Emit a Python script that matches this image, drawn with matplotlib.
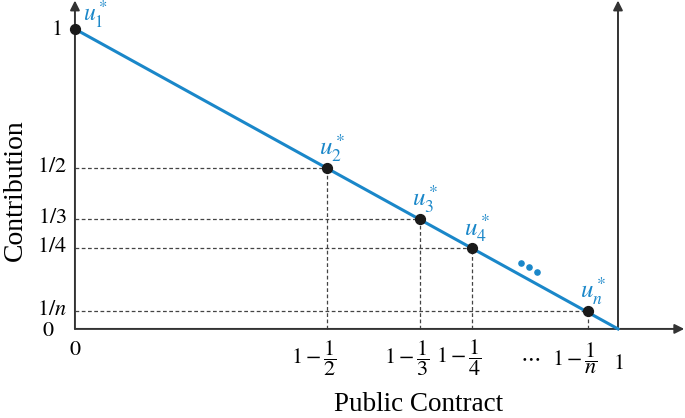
import matplotlib.pyplot as plt

plt.rcParams['mathtext.fontset'] = 'stix'
plt.rcParams['font.family'] = ['Liberation Serif', 'DejaVu Serif']

# equilibrium points u_k* (x: public contract, y: contribution)
px = [0.0, 0.464, 0.635, 0.731, 0.945]
py = [1.0, 0.537, 0.367, 0.270, 0.060]
point_labels = [r'$u_1^*$', r'$u_2^*$', r'$u_3^*$', r'$u_4^*$', r'$u_n^*$']
xtick_labels = [r'$1-\dfrac{1}{2}$', r'$1-\dfrac{1}{3}$', r'$1-\dfrac{1}{4}$', r'$1-\dfrac{1}{n}$']
ytick_labels = [r'$1/2$', r'$1/3$', r'$1/4$', r'$1/n$']
dots_x = [0.822, 0.837, 0.851]
dots_y = [0.220, 0.207, 0.190]

blue = '#1a87c9'
dark = '#1a1a1a'

fig = plt.figure(figsize=(6.85, 4.18), dpi=100)
ax = fig.add_axes([0, 0, 1, 1])
ax.set_xlim(-0.138, 1.1234)
ax.set_ylim(-0.297, 1.0967)
ax.axis('off')

# axes with arrows
arrow = dict(arrowstyle='-|>', color='#333333', lw=1.4, mutation_scale=14, shrinkA=0, shrinkB=0)
ax.annotate('', xy=(0, 1.095), xytext=(0, 0), arrowprops=arrow)
ax.annotate('', xy=(1.122, 0), xytext=(0, 0), arrowprops=arrow)
ax.annotate('', xy=(1.0, 1.095), xytext=(1.0, 0), arrowprops=arrow)

# main line
ax.plot([0, 1], [1, 0], color=blue, lw=2.2, zorder=3)

# guide lines
for x, y in zip(px[1:], py[1:]):
    ax.plot([0, x], [y, y], ls=(0, (3, 2)), color='#444444', lw=0.9, zorder=2)
    ax.plot([x, x], [0, y], ls=(0, (3, 2)), color='#444444', lw=0.9, zorder=2)

ax.scatter(px, py, s=50, color=dark, zorder=4, clip_on=False)

# point labels
for i, (x, y, lab) in enumerate(zip(px, py, point_labels)):
    if i == 0:
        ax.text(x + 0.014, y - 0.008, lab, color=blue, fontsize=17, ha='left', va='bottom')
    else:
        ax.text(x + 0.01, y + 0.012, lab, color=blue, fontsize=18, ha='center', va='bottom')

ax.scatter(dots_x, dots_y, s=14, color=blue, zorder=4)

# y tick labels
ax.text(-0.024, 0.995, r'$1$', fontsize=16, ha='right', va='center')
for y, lab in zip(py[1:], ytick_labels):
    ax.text(-0.015, y, lab, fontsize=16, ha='right', va='center')
ax.text(-0.037, -0.007, r'$0$', fontsize=16, ha='right', va='center')

# x tick labels
ax.text(0.0, -0.073, r'$0$', fontsize=16, ha='center', va='center')
for x, lab in zip(px[1:], xtick_labels):
    ax.text(x + 0.018, -0.097, lab, fontsize=16, ha='right', va='center')
ax.text(0.838, -0.1, r'$\cdots$', fontsize=16, ha='center', va='center')
ax.text(1.0, -0.117, r'$1$', fontsize=16, ha='center', va='center')

ax.text(-0.109, 0.463, 'Contribution', fontsize=20, rotation=90, ha='center', va='center')
ax.text(0.632, -0.253, 'Public Contract', fontsize=19.5, ha='center', va='center')

fig.savefig('out.png', dpi=100)
